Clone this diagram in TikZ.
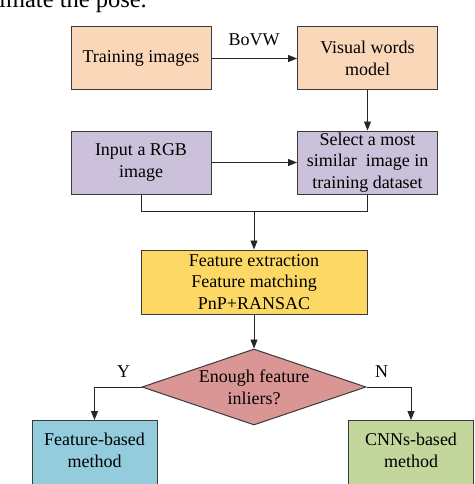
\documentclass[tikz,border=0pt]{standalone}
\usepackage{fontspec}
\setmainfont{Liberation Serif}
\usetikzlibrary{arrows.meta,shapes.geometric}
\definecolor{peach}{HTML}{FAD7B9}
\definecolor{lilac}{HTML}{CCC1DA}
\definecolor{gold}{HTML}{FDD865}
\definecolor{rose}{HTML}{DA9694}
\definecolor{skyb}{HTML}{93CDDD}
\definecolor{sage}{HTML}{C3D69B}
\definecolor{edge}{HTML}{3A3A3A}
\tikzset{
  box/.style={draw=edge, line width=1pt, inner sep=0pt, align=center,
    minimum width=140pt, minimum height=63pt,
    font=\fontsize{18}{21.5}\selectfont},
  dec/.style={draw=edge, line width=1pt, diamond, inner sep=0pt,
    minimum width=224pt, minimum height=76pt, fill=rose},
  lbl/.style={font=\fontsize{18}{21.5}\selectfont, inner sep=0pt, align=center},
  conn/.style={draw=black!85, line width=0.9pt},
  arr/.style={conn, -{Triangle[length=9pt,width=7pt]}}
}
\begin{document}
\begin{tikzpicture}[x=1pt,y=-1pt]
\useasboundingbox (0,0) rectangle (474,484);
\node[anchor=base west, inner sep=0pt, font=\fontsize{24.5}{28}\selectfont] (top) at (-1,8) {imate the pose.};
\node[box, fill=peach] (train) at (141,58.5) {Training images};
\node[box, fill=peach] (vw) at (367.5,58.5) {Visual words\\model};
\node[box, fill=lilac] (inp) at (141,162.5) {Input a RGB\\image};
\node[box, fill=lilac] (sel) at (367.5,162.5) {Select a most\\similar\ \ image in\\training dataset};
\node[box, fill=gold, minimum width=226pt, minimum height=64pt] (feat) at (254,282) {Feature extraction\\Feature matching\\PnP+RANSAC};
\node[dec] (d) at (254,387) {};
\node[lbl] (dtxt) at (254,387.5) {Enough feature\\inliers?};
\node[box, fill=skyb, minimum width=125pt, minimum height=68pt, anchor=north] (fb) at (94.5,420) {};
\node[lbl, anchor=base] (fbt) at (94.5,467) {Feature-based\\method};
\node[box, fill=sage, minimum width=125pt, minimum height=68pt, anchor=north] (cb) at (411,420) {};
\node[lbl, anchor=base] (cbt) at (411,467) {CNNs-based\\method};
\node[lbl, anchor=base] (bovw) at (254,46) {BoVW};
\node[lbl, anchor=base] (y) at (123.5,377) {Y};
\node[lbl, anchor=base] (n) at (381.5,377) {N};
\coordinate (jl) at (141,211);
\coordinate (jr) at (367.5,211);
\coordinate (jm) at (254,211);
\draw[arr] (train) -- (vw);
\draw[arr] (vw) -- (sel);
\draw[arr] (inp) -- (sel);
\draw[conn] (inp.south) -- (jl) -- (jr) -- (sel.south);
\draw[arr] (jm) -- (feat.north);
\draw[arr] (feat) -- (d.north);
\draw[arr] (d.west) -| (fb.north);
\draw[arr] (d.east) -| (cb.north);
\end{tikzpicture}
\end{document}
